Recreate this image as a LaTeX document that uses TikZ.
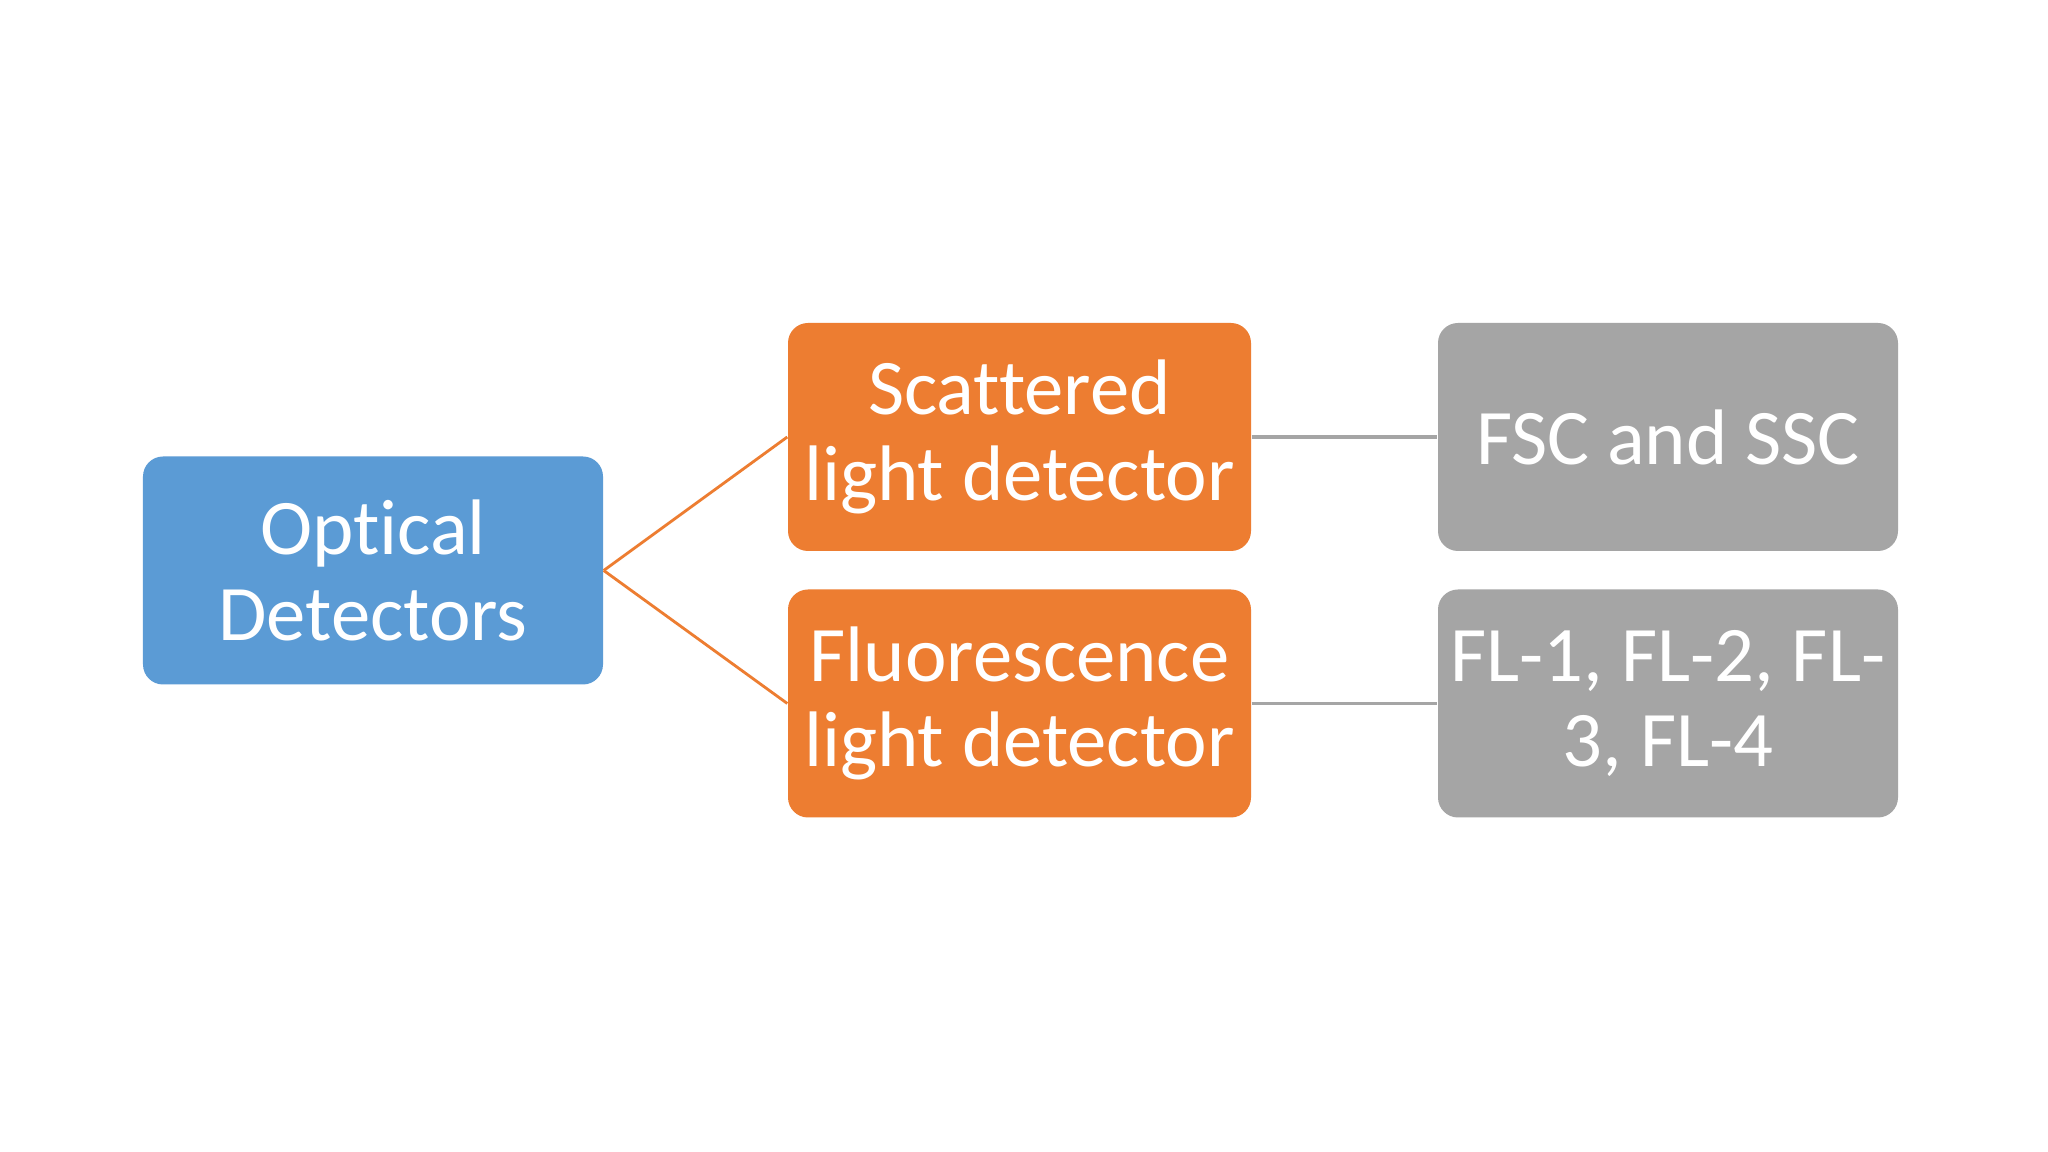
\documentclass[tikz,border=0pt]{standalone}
\usepackage{fontspec}
\setmainfont[Ligatures={NoCommon}]{Carlito}
\definecolor{cblue}{HTML}{5B9BD5}
\definecolor{corange}{HTML}{ED7D31}
\definecolor{cgray}{HTML}{A5A5A5}
\begin{document}
\begin{tikzpicture}[
  box/.style={rounded corners=0.2cm, minimum width=4.6cm, minimum height=2.28cm,
    inner sep=0pt, text=white, align=center,
    font=\fontsize{22.4pt}{24.4pt}\selectfont},
  bluebox/.style={box, fill=cblue},
  orangebox/.style={box, fill=corange},
  graybox/.style={box, fill=cgray},
  olink/.style={draw=corange, line width=0.8pt},
  glink/.style={draw=cgray, line width=1pt}
]
\useasboundingbox[fill=white] (0,0) rectangle (20.48,11.52);
\node[bluebox] (opt) at (3.73,5.815) {Optical\\Detectors};
\node[orangebox, minimum width=4.63cm] (sca) at (10.195,7.15) {Scattered\\light detector};
\node[orangebox, minimum width=4.63cm] (flu) at (10.195,4.485) {Fluorescence\\light detector};
\node[graybox] (fsc) at (16.68,7.15) {FSC and SSC};
\node[graybox] (fl) at (16.68,4.485) {FL-1, FL-2, FL-\\3, FL-4};
\draw[olink] (opt.east) -- (sca.west);
\draw[olink] (opt.east) -- (flu.west);
\draw[glink] (sca.east) -- (fsc.west);
\draw[glink] (flu.east) -- (fl.west);
\end{tikzpicture}
\end{document}
